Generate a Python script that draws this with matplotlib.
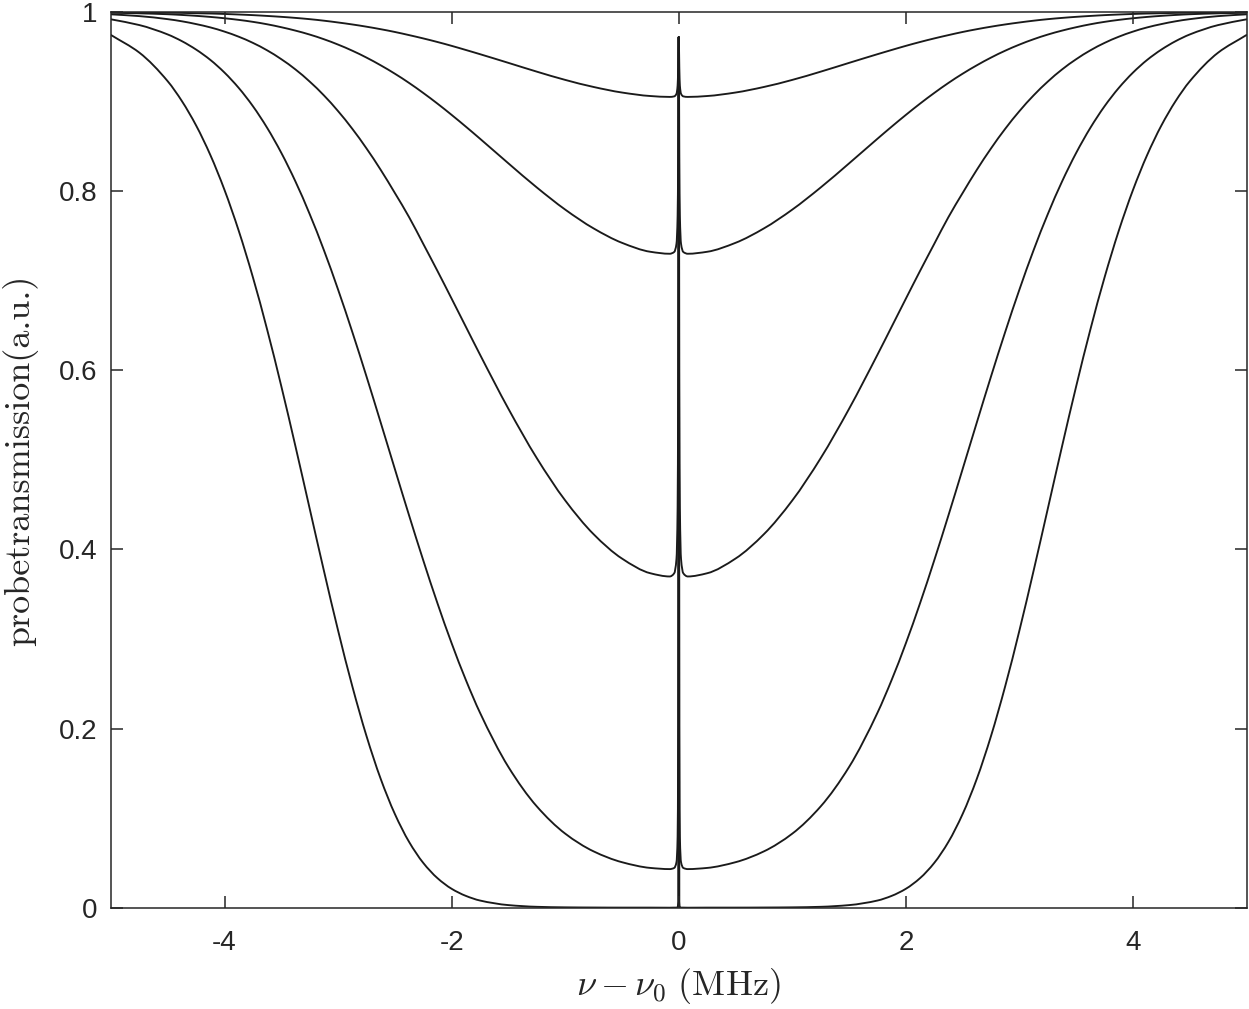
import matplotlib
matplotlib.use("Agg")
import numpy as np
import matplotlib.pyplot as plt
from matplotlib.path import Path
from matplotlib.patches import PathPatch

# detuning grid (MHz)
detuning = [-5.0, -4.75, -4.5, -4.375, -4.25, -4.125, -4.0, -3.875, -3.75, -3.625, -3.5, -3.375,
            -3.25, -3.125, -3.0, -2.875, -2.75, -2.625, -2.5, -2.375, -2.25, -2.125, -2.0, -1.875,
            -1.75, -1.5, -1.25, -1.0, -0.75, -0.5, -0.25, -0.08, -0.04, -0.02, -0.01, -0.005,
            0.0,
            0.005, 0.01, 0.02, 0.04, 0.08, 0.25, 0.5, 0.75, 1.0, 1.25, 1.5, 1.75,
            1.875, 2.0, 2.125, 2.25, 2.375, 2.5, 2.625, 2.75, 2.875, 3.0, 3.125, 3.25,
            3.375, 3.5, 3.625, 3.75, 3.875, 4.0, 4.125, 4.25, 4.375, 4.5, 4.75, 5.0]

# probe transmission curves, weakest to strongest absorption
trans_a = [0.9997, 0.9995, 0.9992, 0.9990, 0.9986, 0.9983, 0.9978, 0.9972, 0.9965, 0.9956, 0.9946, 0.9934,
           0.9920, 0.9903, 0.9883, 0.9861, 0.9836, 0.9808, 0.9777, 0.9742, 0.9705, 0.9665, 0.9622, 0.9576,
           0.9529, 0.9432, 0.9334, 0.9242, 0.9163, 0.9101, 0.9062, 0.9052, 0.9058, 0.9087, 0.9179, 0.9378,
           0.9720,
           0.9378, 0.9179, 0.9087, 0.9058, 0.9052, 0.9062, 0.9101, 0.9163, 0.9242, 0.9334, 0.9432, 0.9529,
           0.9576, 0.9622, 0.9665, 0.9705, 0.9742, 0.9777, 0.9808, 0.9836, 0.9861, 0.9883, 0.9903, 0.9920,
           0.9934, 0.9946, 0.9956, 0.9965, 0.9972, 0.9978, 0.9983, 0.9986, 0.9990, 0.9992, 0.9995, 0.9997]

trans_b = [0.9992, 0.9985, 0.9975, 0.9967, 0.9957, 0.9945, 0.9930, 0.9912, 0.9890, 0.9863, 0.9830, 0.9792,
           0.9748, 0.9696, 0.9636, 0.9568, 0.9491, 0.9405, 0.9311, 0.9208, 0.9096, 0.8977, 0.8851, 0.8720,
           0.8585, 0.8310, 0.8041, 0.7794, 0.7584, 0.7423, 0.7323, 0.7301, 0.7321, 0.7413, 0.7721, 0.8417,
           0.9720,
           0.8417, 0.7721, 0.7413, 0.7321, 0.7301, 0.7323, 0.7423, 0.7584, 0.7794, 0.8041, 0.8310, 0.8585,
           0.8720, 0.8851, 0.8977, 0.9096, 0.9208, 0.9311, 0.9405, 0.9491, 0.9568, 0.9636, 0.9696, 0.9748,
           0.9792, 0.9830, 0.9863, 0.9890, 0.9912, 0.9930, 0.9945, 0.9957, 0.9967, 0.9975, 0.9985, 0.9992]

trans_c = [0.9974, 0.9954, 0.9920, 0.9896, 0.9865, 0.9828, 0.9781, 0.9724, 0.9655, 0.9572, 0.9473, 0.9358,
           0.9223, 0.9069, 0.8893, 0.8696, 0.8477, 0.8238, 0.7979, 0.7710, 0.7411, 0.7109, 0.6799, 0.6486,
           0.6174, 0.5570, 0.5019, 0.4547, 0.4170, 0.3898, 0.3734, 0.3698, 0.3734, 0.3895, 0.4468, 0.5980,
           0.9720,
           0.5980, 0.4468, 0.3895, 0.3734, 0.3698, 0.3734, 0.3898, 0.4170, 0.4547, 0.5019, 0.5570, 0.6174,
           0.6486, 0.6799, 0.7109, 0.7411, 0.7710, 0.7979, 0.8238, 0.8477, 0.8696, 0.8893, 0.9069, 0.9223,
           0.9358, 0.9473, 0.9572, 0.9655, 0.9724, 0.9781, 0.9828, 0.9865, 0.9896, 0.9920, 0.9954, 0.9974]

trans_d = [0.9918, 0.9854, 0.9749, 0.9674, 0.9580, 0.9465, 0.9323, 0.9152, 0.8948, 0.8707, 0.8427, 0.8106,
           0.7743, 0.7341, 0.6900, 0.6428, 0.5931, 0.5417, 0.4897, 0.4380, 0.3878, 0.3399, 0.2952, 0.2543,
           0.2176, 0.1571, 0.1131, 0.0827, 0.0629, 0.0508, 0.0444, 0.0431, 0.0444, 0.0509, 0.0792, 0.2028,
           0.9720,
           0.2028, 0.0792, 0.0509, 0.0444, 0.0431, 0.0444, 0.0508, 0.0629, 0.0827, 0.1131, 0.1571, 0.2176,
           0.2543, 0.2952, 0.3399, 0.3878, 0.4380, 0.4897, 0.5417, 0.5931, 0.6428, 0.6900, 0.7341, 0.7743,
           0.8106, 0.8427, 0.8707, 0.8948, 0.9152, 0.9323, 0.9465, 0.9580, 0.9674, 0.9749, 0.9854, 0.9918]

trans_e = [0.9743, 0.9546, 0.9226, 0.9004, 0.8732, 0.8403, 0.8012, 0.7557, 0.7037, 0.6455, 0.5821, 0.5148,
           0.4454, 0.3762, 0.3094, 0.2473, 0.1917, 0.1439, 0.1046, 0.0735, 0.0500, 0.0330, 0.0211, 0.0132,
           0.0080, 0.0029, 0.0010, 0.0004, 0.0002, 0.0001, 0.0001, 0.0000, 0.0001, 0.0001, 0.0003, 0.0066,
           0.9720,
           0.0066, 0.0003, 0.0001, 0.0001, 0.0000, 0.0001, 0.0001, 0.0002, 0.0004, 0.0010, 0.0029, 0.0080,
           0.0132, 0.0211, 0.0330, 0.0500, 0.0735, 0.1046, 0.1439, 0.1917, 0.2473, 0.3094, 0.3762, 0.4454,
           0.5148, 0.5821, 0.6455, 0.7037, 0.7557, 0.8012, 0.8403, 0.8732, 0.9004, 0.9226, 0.9546, 0.9743]

x_ticks = [-4, -2, 0, 2, 4]
x_tick_labels = ["-4", "-2", "0", "2", "4"]
y_ticks = [0, 0.2, 0.4, 0.6, 0.8, 1.0]
y_tick_labels = ["0", "0.2", "0.4", "0.6", "0.8", "1"]


def smooth_path(xs, ys):
    """Smooth (shape-preserving cubic Bezier) path through the given data points."""
    x = np.asarray(xs, float)
    y = np.asarray(ys, float)
    h = np.diff(x)
    d = np.diff(y) / h
    n = len(x)
    m = np.zeros(n)
    for k in range(1, n - 1):
        if d[k - 1] * d[k] <= 0:
            m[k] = 0.0
        else:
            w1 = 2 * h[k] + h[k - 1]
            w2 = h[k] + 2 * h[k - 1]
            m[k] = (w1 + w2) / (w1 / d[k - 1] + w2 / d[k])
    m[0] = d[0]
    m[-1] = d[-1]
    verts = [(x[0], y[0])]
    codes = [Path.MOVETO]
    for k in range(n - 1):
        verts.append((x[k] + h[k] / 3, y[k] + m[k] * h[k] / 3))
        verts.append((x[k + 1] - h[k] / 3, y[k + 1] - m[k + 1] * h[k] / 3))
        verts.append((x[k + 1], y[k + 1]))
        codes += [Path.CURVE4] * 3
    return Path(verts, codes)


plt.rcParams["mathtext.fontset"] = "cm"
plt.rcParams["font.family"] = ["Liberation Sans", "DejaVu Sans"]

W, H = 1249, 1009
fig = plt.figure(figsize=(W / 100, H / 100), dpi=100)
ax = fig.add_axes([111 / W, 1 - 907.7 / H, 1135.5 / W, 895.7 / H])

for series in (trans_a, trans_b, trans_c, trans_d, trans_e):
    ax.add_patch(PathPatch(smooth_path(detuning, series), facecolor="none",
                           edgecolor="#1a1a1a", lw=1.35, joinstyle="round", capstyle="round"))

ax.set_xlim(-5, 5)
ax.set_ylim(0, 1)
ax.set_xticks(x_ticks)
ax.set_xticklabels(x_tick_labels)
ax.set_yticks(y_ticks)
ax.set_yticklabels(y_tick_labels)

axis_col = "#262626"
for sp in ax.spines.values():
    sp.set_linewidth(1.1)
    sp.set_color(axis_col)
ax.tick_params(axis="both", direction="in", length=8.5, width=1.1, color=axis_col,
               top=True, right=True, labelsize=20, labelcolor=axis_col)
ax.tick_params(axis="x", pad=16)
ax.tick_params(axis="y", pad=10)

ax.set_xlabel(r"$\nu - \nu_0\ (\mathrm{MHz})$", fontsize=26, color=axis_col)
ax.set_ylabel("probetransmission(a.u.)", fontsize=26, color=axis_col, family="cmr10")
ax.xaxis.set_label_coords(0.5, -0.0655)
ax.xaxis.label.set_va("top")
ax.yaxis.set_label_coords(-0.0640, 0.5)

fig.savefig("out.png", dpi=100)
